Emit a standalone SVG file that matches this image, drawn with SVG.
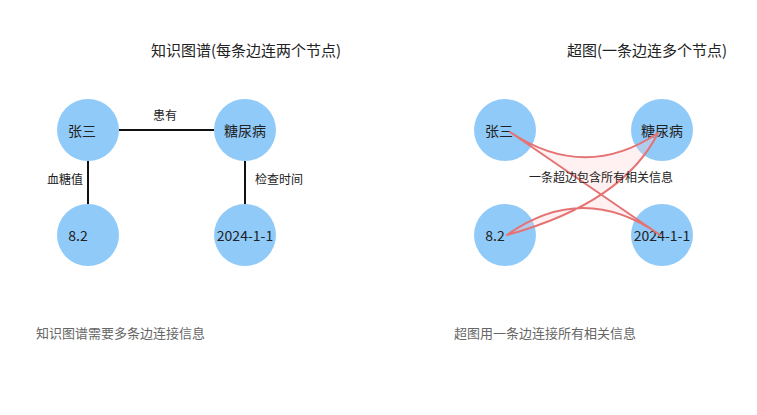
<svg xmlns="http://www.w3.org/2000/svg" width="757" height="415" viewBox="0 0 757 415">
<style>
text{font-family:"Noto Sans CJK SC","Noto Sans",sans-serif;fill:#222}
.n{fill:#90caf9}
.nl{font-size:14px;text-anchor:middle;dominant-baseline:central}
.el{font-size:12px}
.t{font-size:15px;text-anchor:middle}
.c{font-size:13px;fill:#666}
.e{stroke:#111;stroke-width:2;fill:none}
</style>
<rect width="757" height="415" fill="#fff"/>
<text class="t" x="246" y="56">知识图谱(每条边连两个节点)</text>
<text class="t" x="647" y="56">超图(一条边连多个节点)</text>
<g id="connectors">
<line class="e" x1="119" y1="130" x2="214" y2="130"/>
<line class="e" x1="88" y1="161" x2="88" y2="204"/>
<line class="e" x1="245" y1="161" x2="245" y2="204"/>
</g>
<g id="n1"><circle class="n" cx="88" cy="130" r="31"/><text class="nl" x="82" y="130">张三</text></g>
<g id="n2"><circle class="n" cx="245" cy="130" r="31"/><text class="nl" x="245" y="130">糖尿病</text></g>
<g id="n3"><circle class="n" cx="88" cy="235" r="31"/><text class="nl" x="78" y="235">8.2</text></g>
<g id="n4"><circle class="n" cx="245" cy="235" r="31"/><text class="nl" x="245" y="235">2024-1-1</text></g>
<text class="el" x="165" y="120" text-anchor="middle">患有</text>
<text class="el" x="65" y="184" text-anchor="middle">血糖值</text>
<text class="el" x="255" y="184">检查时间</text>
<g id="m1"><circle class="n" cx="505" cy="130" r="31"/><text class="nl" x="499" y="130">张三</text></g>
<g id="m2"><circle class="n" cx="662" cy="130" r="31"/><text class="nl" x="662" y="130">糖尿病</text></g>
<g id="m3"><circle class="n" cx="505" cy="235" r="31"/><text class="nl" x="495" y="235">8.2</text></g>
<g id="m4"><circle class="n" cx="662" cy="235" r="31"/><text class="nl" x="662" y="235">2024-1-1</text></g>
<g id="hyperedge">
<path d="M510,132 Q585,182 658,133 Q623,203 507,235 Q583,181 660,235 Z" fill="#ffcdd2" fill-opacity="0.3" stroke="#e57373" stroke-width="2" stroke-linejoin="round"/>
</g>
<text class="el" x="601" y="182" text-anchor="middle">一条超边包含所有相关信息</text>
<text class="c" x="36" y="338">知识图谱需要多条边连接信息</text>
<text class="c" x="454" y="338">超图用一条边连接所有相关信息</text>
</svg>
